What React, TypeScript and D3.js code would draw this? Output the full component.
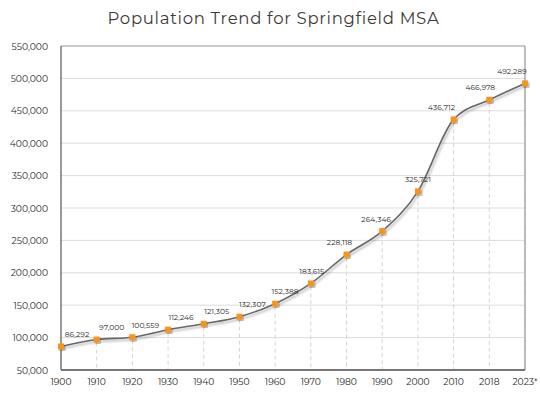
import React from "react";
import * as d3 from "d3";

const years = ["1900","1910","1920","1930","1940","1950","1960","1970","1980","1990","2000","2010","2018","2023*"];
const population = [86292,97000,100559,112246,121305,132307,152388,183615,228118,264346,325721,436712,466978,492289];
const labelText = ["86,292","97,000","100,559","112,246","121,305","132,307","152,388","183,615","228,118","264,346","325,721","436,712","466,978","492,289"];
const yTicks = [50000,100000,150000,200000,250000,300000,350000,400000,450000,500000,550000];
// layout: horizontal offsets of the value labels relative to their points
const labelDx = [16,15,13,13,13,13,10,1,-7,-6,0,-12,-9,-13];

const W = 540, H = 396;
const M = { left: 61, right: 15, top: 46, bottom: 26 };

export default function App() {
  const x = d3.scalePoint<string>().domain(years).range([M.left, W - M.right]);
  const y = d3.scaleLinear().domain([50000, 550000]).range([H - M.bottom, M.top]);
  const pts = years.map((yr, i) => [x(yr) as number, y(population[i])] as [number, number]);
  const line = d3.line().curve(d3.curveMonotoneX)(pts) as string;
  const fmt = d3.format(",");
  const font = "'Montserrat', 'DejaVu Sans', sans-serif";
  return (
    <svg width={W} height={H} style={{ position: "absolute", left: 0, top: 0, background: "#fff" }}>
      <defs>
        <filter id="sh" x="-20%" y="-20%" width="140%" height="140%">
          <feDropShadow dx="1.5" dy="2" stdDeviation="1.2" floodColor="#000" floodOpacity="0.3" />
        </filter>
      </defs>
      <text x={273.5} y={24} textAnchor="middle" fontFamily={font} fontSize={16.5} fill="#3d3a38" letterSpacing={0.7}>
        Population Trend for Springfield MSA
      </text>
      {yTicks.map(t => (
        <g key={t}>
          <line x1={M.left} x2={W - M.right} y1={y(t)} y2={y(t)} stroke="#dcdcdc" strokeWidth={1} />
          <text x={48} y={y(t) + 3.5} textAnchor="end" fontFamily={font} fontSize={9.2} fill="#2e2b29">{fmt(t)}</text>
        </g>
      ))}
      {years.map((yr, i) => (
        <line key={yr} x1={x(yr)} x2={x(yr)} y1={y(population[i]) + 3} y2={H - M.bottom} stroke="#d4d4d4" strokeDasharray="4,3" strokeWidth={1} />
      ))}
      <line x1={M.left} x2={W - M.right} y1={M.top} y2={M.top} stroke="#a8a8a8" strokeWidth={1} />
      <line x1={W - M.right} x2={W - M.right} y1={M.top} y2={H - M.bottom} stroke="#a8a8a8" strokeWidth={1.5} />
      <line x1={M.left} x2={M.left} y1={M.top} y2={H - M.bottom} stroke="#777" strokeWidth={1.5} />
      <line x1={M.left} x2={W - M.right} y1={H - M.bottom} y2={H - M.bottom} stroke="#777" strokeWidth={2} />
      {years.map(yr => (
        <text key={yr} x={x(yr)} y={H - M.bottom + 15} textAnchor="middle" fontFamily={font} fontSize={9.2} fill="#2e2b29">{yr}</text>
      ))}
      <path d={line} fill="none" stroke="#666" strokeWidth={1.6} filter="url(#sh)" />
      {pts.map(([px, py], i) => (
        <rect key={i} x={px - 3} y={py - 3} width={6} height={6} fill="#f7941d" filter="url(#sh)" />
      ))}
      {pts.map(([px, py], i) => (
        <text key={"l" + i} x={px + labelDx[i]} y={py - 9.5} textAnchor="middle" fontFamily={font} fontSize={7.6} fill="#2a2725">{labelText[i]}</text>
      ))}
    </svg>
  );
}
